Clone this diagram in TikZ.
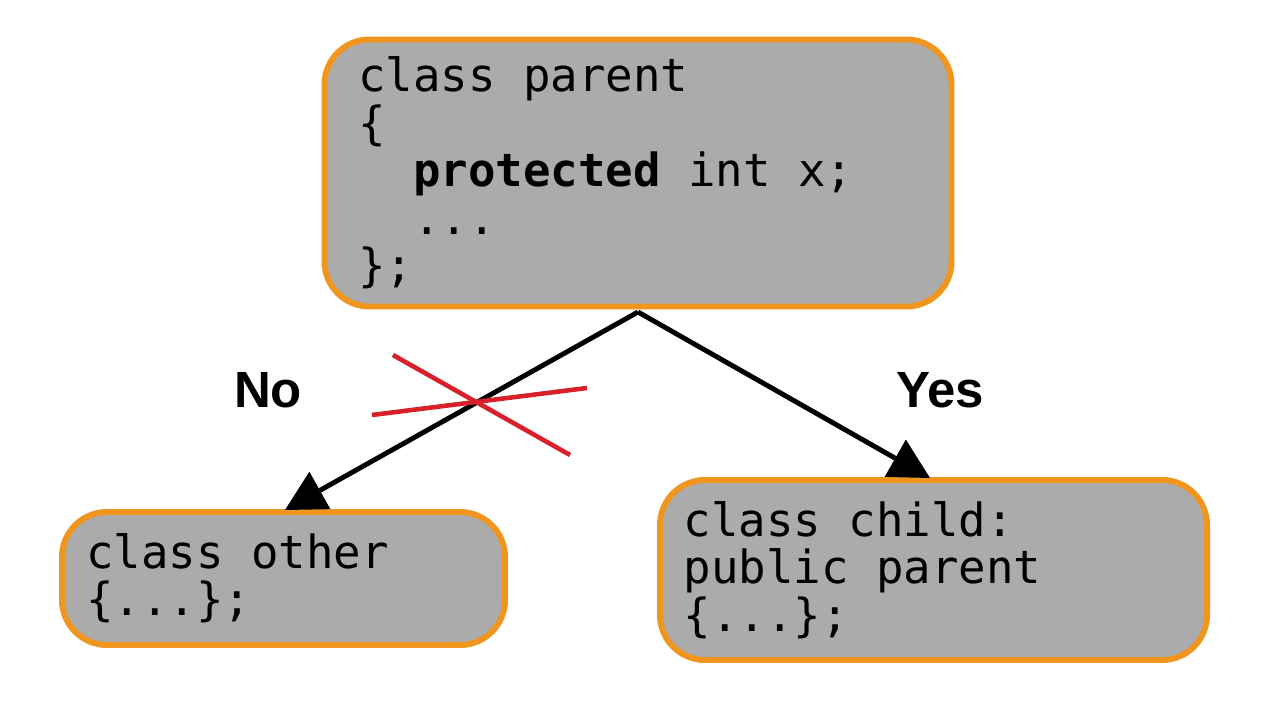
\documentclass[tikz,border=0pt]{standalone}
\usepackage{fontspec}
\setmonofont{DejaVu Sans Mono}
\setsansfont{Liberation Sans}
\usetikzlibrary{calc}
\definecolor{boxgray}{HTML}{ABABAB}
\definecolor{boxorange}{HTML}{F0961E}
\definecolor{crossred}{HTML}{D9202A}
\newcommand{\ms}{\hspace*{0.602em}}
\tikzset{
  codebox/.style={draw=boxorange, fill=boxgray, line width=3.4pt, rounded corners=0.9cm,
    align=left, font=\ttfamily\fontsize{26}{27}\selectfont, inner sep=0pt},
  link/.style={line width=2.8pt},
  answer/.style={font=\sffamily\bfseries\fontsize{29}{32}\selectfont}
}
\begin{document}
\begin{tikzpicture}
        \useasboundingbox[fill=white] (0,0) rectangle (25.6,14.4);
        \node[codebox, minimum width=12.54cm, minimum height=5.34cm, text width=11.2cm] (parent) at (12.76,10.94)
          {class\ms parent\\\{\\\ms\ms\textbf{protected}\ms int\ms x;\\\ms\ms...\\\};};
        \node[codebox, minimum width=8.86cm, minimum height=2.66cm, text width=7.9cm] (other) at (5.67,2.83)
          {class\ms other\\\{...\};};
        \node[codebox, minimum width=10.94cm, minimum height=3.6cm, text width=10cm] (child) at (18.67,3.0)
          {class\ms child:\\public\ms parent\\\{...\};};
        \coordinate (fork) at (12.76,8.16);
        \coordinate (tipL) at (5.7,4.2);
        \coordinate (tipR) at (18.6,4.84);
        \coordinate (baseL) at ($(tipL)!0.8cm!(fork)$);
        \coordinate (baseR) at ($(tipR)!0.8cm!(fork)$);
        \draw[link] (fork) -- (baseL);
        \draw[link] (fork) -- (baseR);
        \fill ($(baseL)!0.43cm!90:(tipL)$) -- (tipL) -- ($(baseL)!0.43cm!-90:(tipL)$) -- cycle;
        \fill ($(baseR)!0.43cm!90:(tipR)$) -- (tipR) -- ($(baseR)!0.43cm!-90:(tipR)$) -- cycle;
        \node[answer] (no) at (5.36,6.6) {No};
        \node[answer] (yes) at (18.8,6.6) {Yes};
        \coordinate (c1) at (7.86,7.3); \coordinate (c2) at (11.4,5.3);
        \coordinate (c3) at (7.44,6.1); \coordinate (c4) at (11.74,6.64);
        \draw[crossred, line width=2.6pt] (c1) -- (c2);
        \draw[crossred, line width=2.6pt] (c3) -- (c4);
    \end{tikzpicture}
\end{document}
